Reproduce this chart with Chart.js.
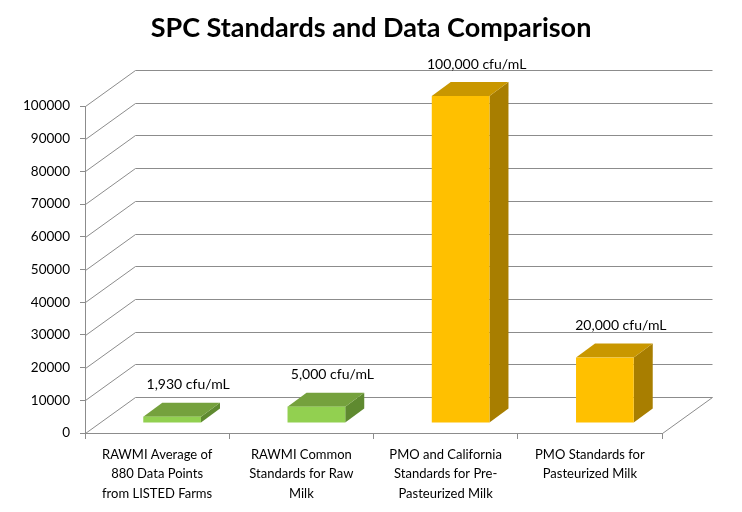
<!DOCTYPE html>
<html><head><meta charset="utf-8">
<script src="https://cdn.jsdelivr.net/npm/chart.js@4/dist/chart.umd.min.js"></script>
<style>html,body{margin:0;padding:0;background:#fff}#wrap{width:742px;height:512px}</style>
</head><body><div id="wrap"><canvas id="c" width="742" height="512"></canvas></div>
<script>
const titleText = "SPC Standards and Data Comparison";
const categories = [
  ["RAWMI Average of", "880 Data Points", "from LISTED Farms"],
  ["RAWMI Common", "Standards for Raw", "Milk"],
  ["PMO and California", "Standards for Pre-", "Pasteurized Milk"],
  ["PMO Standards for", "Pasteurized Milk"]
];
const values = [1930, 5000, 100000, 20000];
const valueLabels = ["1,930 cfu/mL", "5,000 cfu/mL", "100,000 cfu/mL", "20,000 cfu/mL"];
const frontColors = ["#92D050", "#92D050", "#FFC000", "#FFC000"];
const topColors = ["#75A13D", "#75A13D", "#C99700", "#C99700"];
const sideColors = ["#5F8A30", "#5F8A30", "#A87E00", "#A87E00"];
const yMin = 0, yMax = 100000, yStep = 10000;

const GRID = "#8c8c8c";
const FONT = "Lato";
// 3D geometry (pixels)
const WALL_DX = 50, WALL_DY = -36;
const BAR_OFF_DX = 15, BAR_OFF_DY = -10;
const BAR_DX = 19, BAR_DY = -14;
const LABEL_DX = 31, LABEL_DY = -42;

const crisp = v => Math.round(v) + 0.5;

const wallPlugin = {
  id: 'wall3d',
  beforeDatasetsDraw(chart) {
    const ctx = chart.ctx, ys = chart.scales.y, ca = chart.chartArea;
    ctx.save();
    ctx.strokeStyle = GRID; ctx.lineWidth = 1;
    ys.ticks.forEach(t => {
      const y = ys.getPixelForValue(t.value);
      ctx.beginPath();
      ctx.moveTo(crisp(ca.left), crisp(y));
      ctx.lineTo(crisp(ca.left + WALL_DX), crisp(y + WALL_DY));
      ctx.lineTo(crisp(ca.right + WALL_DX), crisp(y + WALL_DY));
      ctx.stroke();
    });
    const y0 = ys.getPixelForValue(0);
    ctx.beginPath();
    ctx.moveTo(crisp(ca.right), crisp(y0));
    ctx.lineTo(crisp(ca.right + WALL_DX), crisp(y0 + WALL_DY));
    ctx.stroke();
    ctx.restore();
  },
  beforeDatasetDraw(chart, args) {
    const ctx = chart.ctx, meta = args.meta;
    ctx.save();
    meta.data.forEach((el, i) => {
      const p = el.getProps(['x', 'y', 'base', 'width'], true);
      const l = p.x - p.width / 2 + BAR_OFF_DX, r = p.x + p.width / 2 + BAR_OFF_DX;
      const t = p.y + BAR_OFF_DY, b = p.base + BAR_OFF_DY;
      ctx.fillStyle = sideColors[i];
      ctx.beginPath();
      ctx.moveTo(r, b); ctx.lineTo(r, t); ctx.lineTo(r + BAR_DX, t + BAR_DY); ctx.lineTo(r + BAR_DX, b + BAR_DY);
      ctx.closePath(); ctx.fill();
      ctx.fillStyle = topColors[i];
      ctx.beginPath();
      ctx.moveTo(l, t); ctx.lineTo(r, t); ctx.lineTo(r + BAR_DX, t + BAR_DY); ctx.lineTo(l + BAR_DX, t + BAR_DY);
      ctx.closePath(); ctx.fill();
      ctx.fillStyle = frontColors[i];
      ctx.fillRect(l, t, r - l, b - t);
    });
    ctx.restore();
    return false;
  },
  afterDatasetsDraw(chart) {
    const ctx = chart.ctx, meta = chart.getDatasetMeta(0);
    ctx.save();
    ctx.fillStyle = "#000";
    ctx.font = "14px " + FONT;
    ctx.textAlign = "center"; ctx.textBaseline = "middle";
    meta.data.forEach((el, i) => {
      const p = el.getProps(['x', 'y'], true);
      ctx.fillText(valueLabels[i], p.x + LABEL_DX, p.y + LABEL_DY);
    });
    ctx.restore();
  }
};

new Chart(document.getElementById('c'), {
  type: 'bar',
  data: {
    labels: categories,
    datasets: [{
      label: 'SPC',
      data: values,
      backgroundColor: frontColors,
      barPercentage: 0.4,
      categoryPercentage: 1.0
    }]
  },
  options: {
    responsive: false,
    devicePixelRatio: 1,
    animation: false,
    layout: { padding: 0 },
    plugins: {
      legend: { display: false },
      tooltip: { enabled: false },
      title: {
        display: true, text: titleText, color: "#000",
        font: { family: FONT, size: 27, weight: 'bold', lineHeight: 1.2 },
        padding: { top: 12, bottom: 61.6 }
      }
    },
    scales: {
      x: {
        afterFit(s) { s.height = 79; },
        grid: { display: true, drawOnChartArea: false, offset: true, tickLength: 6, color: GRID },
        border: { display: true, color: GRID },
        ticks: { color: "#000", font: { family: FONT, size: 13, lineHeight: 1.5 }, padding: 6, maxRotation: 0, autoSkip: false }
      },
      y: {
        min: yMin, max: yMax,
        afterFit(s) { s.width = 85; },
        grid: { display: true, drawOnChartArea: false, tickLength: 5, color: GRID },
        border: { display: true, color: GRID },
        ticks: { stepSize: yStep, color: "#000", font: { family: FONT, size: 13.5 }, padding: 10,
                 callback: v => String(v) }
      },
      yRight: {
        position: 'right', display: true,
        afterFit(s) { s.width = 80; },
        grid: { display: false }, border: { display: false }, ticks: { display: false }
      }
    }
  },
  plugins: [wallPlugin]
});
</script></body></html>
